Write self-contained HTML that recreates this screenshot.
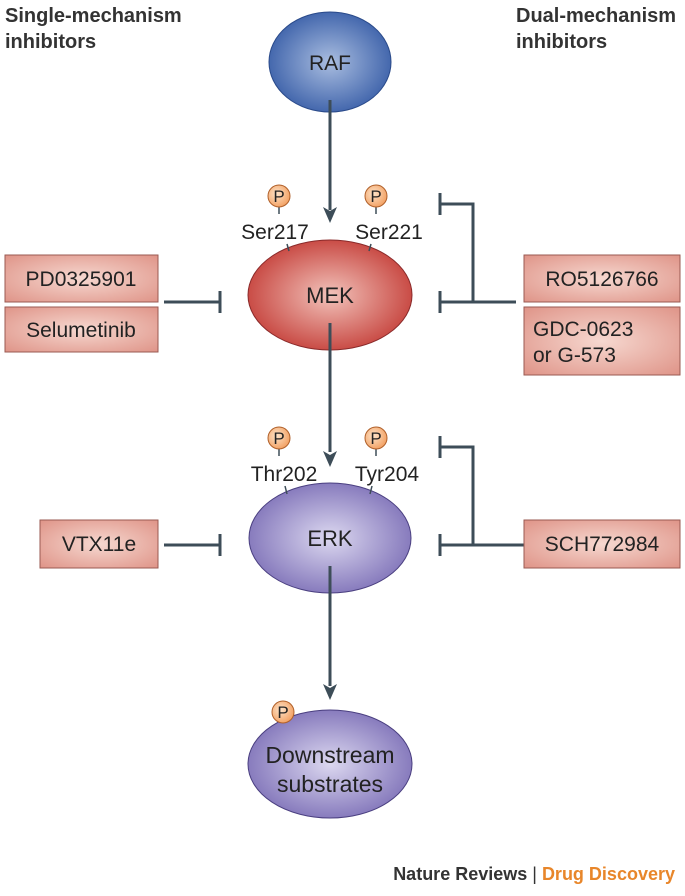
<!DOCTYPE html>
<html><head><meta charset="utf-8"><style>
html,body{margin:0;padding:0;background:#fff}
svg{display:block}
text{font-family:"Liberation Sans",sans-serif}
</style></head><body>
<svg width="685" height="896" viewBox="0 0 685 896" xmlns="http://www.w3.org/2000/svg">
<defs>
<radialGradient id="gB" cx="50%" cy="50%" r="55%"><stop offset="0" stop-color="#a9bde0"/><stop offset="1" stop-color="#3a5fa8"/></radialGradient>
<radialGradient id="gR" cx="50%" cy="50%" r="55%"><stop offset="0" stop-color="#f2c3bb"/><stop offset="1" stop-color="#c5403a"/></radialGradient>
<radialGradient id="gP" cx="50%" cy="50%" r="55%"><stop offset="0" stop-color="#dcd8f0"/><stop offset="1" stop-color="#7f72b8"/></radialGradient>
<radialGradient id="gBox" cx="50%" cy="50%" r="70%"><stop offset="0" stop-color="#f6d8d0"/><stop offset="1" stop-color="#df9488"/></radialGradient>
<radialGradient id="gO" cx="40%" cy="40%" r="60%"><stop offset="0" stop-color="#fde3c8"/><stop offset="1" stop-color="#f3a468"/></radialGradient>
</defs>
<g font-weight="bold" font-size="20" fill="#333">
<text x="5" y="22">Single-mechanism</text><text x="5" y="48">inhibitors</text>
<text x="516" y="22">Dual-mechanism</text><text x="516" y="48">inhibitors</text>
</g>
<ellipse cx="330" cy="62" rx="61" ry="50" fill="url(#gB)" stroke="#2a4a8a"/>
<text x="330" y="70" font-size="21" text-anchor="middle" fill="#222">RAF</text>
<ellipse cx="330" cy="295" rx="82" ry="55" fill="url(#gR)" stroke="#8a2a2a"/>
<text x="330" y="303" font-size="22" text-anchor="middle" fill="#222">MEK</text>
<ellipse cx="330" cy="538" rx="81" ry="55" fill="url(#gP)" stroke="#4a3f80"/>
<text x="330" y="546" font-size="22" text-anchor="middle" fill="#222">ERK</text>
<ellipse cx="330" cy="764" rx="82" ry="54" fill="url(#gP)" stroke="#4a3f80"/>
<text x="330" y="763" font-size="23" text-anchor="middle" fill="#222">Downstream</text>
<text x="330" y="792" font-size="23" text-anchor="middle" fill="#222">substrates</text>
<g stroke="#3d4d58" stroke-width="3" fill="none">
<line x1="330" y1="100" x2="330" y2="210"/>
<line x1="330" y1="323" x2="330" y2="452"/>
<line x1="330" y1="566" x2="330" y2="686"/>
<path d="M440,204 H473 V302 M440,302 H516"/>
<line x1="440" y1="193" x2="440" y2="215"/><line x1="440" y1="291" x2="440" y2="313"/>
<path d="M440,447 H473 V545 M440,545 H524"/>
<line x1="440" y1="436" x2="440" y2="458"/><line x1="440" y1="534" x2="440" y2="556"/>
<path d="M164,302 H220 M220,291 V313"/>
<path d="M164,545 H220 M220,534 V556"/>
</g>
<g fill="#3d4d58">
<path d="M323,207 L330,223 L337,207 L330,211 Z"/>
<path d="M323,451 L330,467 L337,451 L330,455 Z"/>
<path d="M323,684 L330,700 L337,684 L330,688 Z"/>
</g>
<g stroke="#3d4d58" stroke-width="1.5">
<line x1="279" y1="207" x2="279" y2="214"/><line x1="376" y1="207" x2="376" y2="214"/>
<line x1="279" y1="448" x2="279" y2="456"/><line x1="376" y1="448" x2="376" y2="456"/>
<line x1="287" y1="244" x2="289" y2="251"/><line x1="371" y1="244" x2="369" y2="251"/>
<line x1="285" y1="486" x2="287" y2="494"/><line x1="372" y1="486" x2="370" y2="494"/>
</g>
<g fill="url(#gO)" stroke="#b0602a" stroke-width="1">
<circle cx="279" cy="196" r="11"/><circle cx="376" cy="196" r="11"/>
<circle cx="279" cy="438" r="11"/><circle cx="376" cy="438" r="11"/>
<circle cx="283" cy="712" r="11"/>
</g>
<g font-size="17" text-anchor="middle" fill="#222">
<text x="279" y="202">P</text><text x="376" y="202">P</text>
<text x="279" y="444">P</text><text x="376" y="444">P</text>
<text x="283" y="718">P</text>
</g>
<g font-size="21" text-anchor="middle" fill="#222">
<text x="275" y="239">Ser217</text><text x="389" y="239">Ser221</text>
<text x="284" y="481">Thr202</text><text x="387" y="481">Tyr204</text>
</g>
<g fill="url(#gBox)" stroke="#9a5a52" stroke-width="1">
<rect x="5" y="255" width="153" height="47"/><rect x="5" y="307" width="153" height="45"/>
<rect x="524" y="255" width="156" height="47"/><rect x="524" y="307" width="156" height="68"/>
<rect x="40" y="520" width="118" height="48"/><rect x="524" y="520" width="156" height="48"/>
</g>
<g font-size="21" fill="#222">
<text x="81" y="286" text-anchor="middle">PD0325901</text>
<text x="81" y="337" text-anchor="middle">Selumetinib</text>
<text x="602" y="286" text-anchor="middle">RO5126766</text>
<text x="533" y="336">GDC-0623</text>
<text x="533" y="362">or G-573</text>
<text x="99" y="551" text-anchor="middle">VTX11e</text>
<text x="602" y="551" text-anchor="middle">SCH772984</text>
</g>
<text x="675" y="880" font-size="18" font-weight="bold" text-anchor="end"><tspan fill="#333">Nature Reviews</tspan><tspan fill="#333" font-weight="normal"> | </tspan><tspan fill="#e8862a">Drug Discovery</tspan></text>
</svg>
</body></html>
